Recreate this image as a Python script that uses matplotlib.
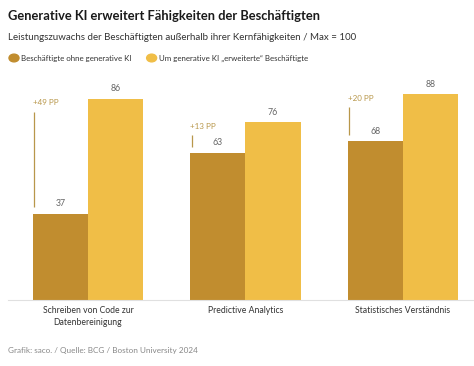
import matplotlib.pyplot as plt
import numpy as np

plt.rcParams['font.family'] = ['Lato', 'DejaVu Sans']

categories = ['Schreiben von Code zur\nDatenbereinigung', 'Predictive Analytics', 'Statistisches Verständnis']
ohne_ki = [37, 63, 68]
mit_ki = [86, 76, 88]
series_names = ['Beschäftigte ohne generative KI', 'Um generative KI „erweiterte“ Beschäftigte']

dark = '#C18D2F'
light = '#F0BE47'
accent = '#B8974A'

fig = plt.figure(figsize=(4.74, 3.66), dpi=100)
ax = fig.add_axes([8 / 474, 1 - 300 / 366, 1 - 8 / 474, (300 - 66.3) / 366])

x = np.arange(len(categories))
w = 0.35
b1 = ax.bar(x - w / 2, ohne_ki, w, color=dark)
b2 = ax.bar(x + w / 2, mit_ki, w, color=light)

for bars in (b1, b2):
    for r in bars:
        ax.annotate(f'{r.get_height():.0f}', (r.get_x() + r.get_width() / 2, r.get_height()),
                    xytext=(0, 4), textcoords='offset points', ha='center', va='bottom',
                    fontsize=6.3, color='#666666')

# difference markers
for i in range(len(categories)):
    lo, hi = ohne_ki[i], mit_ki[i]
    xl = x[i] - w + 0.008
    ax.plot([xl, xl], [lo + 2.6, hi - 5.6], color=accent, lw=0.9, solid_capstyle='butt')
    ax.text(x[i] - w, hi - 1.6, f'+{hi - lo} PP', color=accent, fontsize=5.8,
            ha='left', va='center')

ax.set_xlim(-0.508, 2.452)
ax.set_ylim(0, 100)
ax.set_yticks([])
ax.set_xticks(x)
ax.set_xticklabels(categories, fontsize=6.2, color='#333333', linespacing=1.5)
ax.tick_params(axis='x', length=0, pad=4)
for s in ['top', 'right', 'left']:
    ax.spines[s].set_visible(False)
ax.spines['bottom'].set_color('#e0e0e0')
ax.spines['bottom'].set_linewidth(0.8)

fig.text(8 / 474, 1 - 16 / 366, 'Generative KI erweitert Fähigkeiten der Beschäftigten',
         fontsize=9.3, fontweight='bold', color='#1a1a1a', va='center')
fig.text(8 / 474, 1 - 37.5 / 366, 'Leistungszuwachs der Beschäftigten außerhalb ihrer Kernfähigkeiten / Max = 100',
         fontsize=7.0, color='#333333', va='center')

# legend
lx = 8 / 474
for name, c in zip(series_names, [dark, light]):
    fig.patches.append(plt.Circle((lx + 6 / 474, 1 - 58 / 366), 5 / 474, transform=fig.transFigure,
                                  color=c, figure=fig))
    t = fig.text(lx + 13 / 474, 1 - 58 / 366, name, fontsize=5.7, color='#333333', va='center')
    fig.canvas.draw()
    bb = t.get_window_extent()
    lx = bb.x1 / 474 + 14 / 474

fig.text(8 / 474, 1 - 351 / 366, 'Grafik: saco. / Quelle: BCG / Boston University 2024',
         fontsize=5.9, color='#888888', va='center')

fig.savefig('out.png', dpi=100)
